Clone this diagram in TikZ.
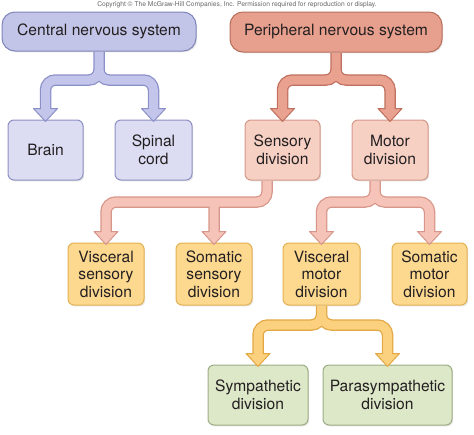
\documentclass[tikz,border=0pt]{standalone}
\usepackage{fontspec}
\setmainfont{TeX Gyre Heros}
\usetikzlibrary{shadows}
\definecolor{txt}{HTML}{231F20}
\definecolor{cnsF}{HTML}{C3C5E8}\definecolor{cnsL}{HTML}{7F84B9}
\definecolor{cnkF}{HTML}{DCDDF3}\definecolor{cnkL}{HTML}{8D90C2}
\definecolor{cnaF}{HTML}{C3C6EA}\definecolor{cnaL}{HTML}{8C90C8}
\definecolor{pnsF}{HTML}{E8A08E}\definecolor{pnsL}{HTML}{B96E5C}
\definecolor{pnaF}{HTML}{E9A190}\definecolor{pnaL}{HTML}{C0705E}
\definecolor{senF}{HTML}{F7D0C4}\definecolor{senL}{HTML}{D4988A}
\definecolor{seaF}{HTML}{F5C3B8}\definecolor{seaL}{HTML}{D8968A}
\definecolor{yelF}{HTML}{FDD990}\definecolor{yelL}{HTML}{E3B152}
\definecolor{yeaF}{HTML}{FBD07E}\definecolor{yeaL}{HTML}{E2A845}
\definecolor{grnF}{HTML}{DDE8C9}\definecolor{grnL}{HTML}{9CAC84}
\newcommand\ahead[2]{\filldraw[#1,line width=1pt,line join=round] ([xshift=-12pt,yshift=11pt]#2.north) -- ([yshift=-2pt]#2.north) -- ([xshift=12pt,yshift=11pt]#2.north) -- cycle;}
\begin{document}
\begin{tikzpicture}[x=1pt,y=-1pt,
  box/.style={draw, line width=1pt, rounded corners=6pt, align=center, inner sep=0pt, text=txt,
    font=\fontsize{15.6}{17.5}\selectfont,
    drop shadow={shadow xshift=1.2pt, shadow yshift=-1.4pt, opacity=0.2}},
  bigbox/.style={box, rounded corners=13pt, minimum height=39pt},
  bandout/.style={line width=11.5pt, rounded corners=10pt},
  bandin/.style={line width=9pt, rounded corners=10pt}]
\useasboundingbox (0,0) rectangle (474,434);
\node[font=\fontsize{6.7}{7}\selectfont, text=black!60] (copy) at (237,4.5)
  {Copyright © The McGraw-Hill Companies, Inc. Permission required for reproduction or display.};
% boxes
\node[bigbox, fill=cnsF, draw=cnsL, minimum width=194pt] (cns) at (99,31.5) {Central nervous system};
\node[bigbox, fill=pnsF, draw=pnsL, minimum width=212pt, minimum height=40pt] (pns) at (336,32) {Peripheral nervous system};
\node[box, fill=cnkF, draw=cnkL, minimum width=75pt, minimum height=60pt] (brain) at (45.5,150) {Brain};
\node[box, fill=cnkF, draw=cnkL, minimum width=77pt, minimum height=60pt] (spin) at (153.5,150) {Spinal\\cord};
\node[box, fill=senF, draw=senL, minimum width=75pt, minimum height=60pt] (sens) at (282.5,150) {Sensory\\division};
\node[box, fill=senF, draw=senL, minimum width=76pt, minimum height=60pt] (mot) at (390,150) {Motor\\division};
\node[box, fill=yelF, draw=yelL, minimum width=76pt, minimum height=62pt] (visS) at (106,274) {Visceral\\sensory\\division};
\node[box, fill=yelF, draw=yelL, minimum width=76pt, minimum height=62pt] (somS) at (214,274) {Somatic\\sensory\\division};
\node[box, fill=yelF, draw=yelL, minimum width=77pt, minimum height=62pt] (visM) at (321.5,274) {Visceral\\motor\\division};
\node[box, fill=yelF, draw=yelL, minimum width=75pt, minimum height=62pt] (somM) at (429.5,274) {Somatic\\motor\\division};
\node[box, fill=grnF, draw=grnL, minimum width=100pt, minimum height=60pt] (symp) at (258,395) {Sympathetic\\division};
\node[box, fill=grnF, draw=grnL, minimum width=129pt, minimum height=60pt] (para) at (387.5,395) {Parasympathetic\\division};
% brace coordinates
\coordinate (bc) at (99,80);
\coordinate (bp) at (336,80);
\coordinate (bs) at (267,202);
\coordinate (bm) at (375,202);
\coordinate (bv) at (321.5,325);
% CNS arrows
\draw[bandout, cnaL] ([yshift=-0.6pt]cns.south) -- (bc) -| ([yshift=11pt]brain.north)
  ([yshift=-0.6pt]cns.south) -- (bc) -| ([yshift=11pt]spin.north);
\ahead{fill=cnaF,draw=cnaL}{brain}\ahead{fill=cnaF,draw=cnaL}{spin}
\draw[bandin, cnaF] ([yshift=-0.6pt]cns.south) -- (bc) -| ([yshift=9.5pt]brain.north)
  ([yshift=-0.6pt]cns.south) -- (bc) -| ([yshift=9.5pt]spin.north);
% PNS arrows
\draw[bandout, pnaL] ([yshift=-0.6pt]pns.south) -- (bp) -| ([yshift=11pt]sens.north)
  ([yshift=-0.6pt]pns.south) -- (bp) -| ([yshift=11pt]mot.north);
\ahead{fill=pnaF,draw=pnaL}{sens}\ahead{fill=pnaF,draw=pnaL}{mot}
\draw[bandin, pnaF] ([yshift=-0.6pt]pns.south) -- (bp) -| ([yshift=9.5pt]sens.north)
  ([yshift=-0.6pt]pns.south) -- (bp) -| ([yshift=9.5pt]mot.north);
% Sensory arrows
\draw[bandout, seaL] ([xshift=-15.5pt,yshift=-0.6pt]sens.south) -- (bs) -| ([yshift=11pt]visS.north)
  (somS.north |- bs) -- ([yshift=11pt]somS.north);
\ahead{fill=seaF,draw=seaL}{visS}\ahead{fill=seaF,draw=seaL}{somS}
\draw[bandin, seaF] ([xshift=-15.5pt,yshift=-0.6pt]sens.south) -- (bs) -| ([yshift=9.5pt]visS.north)
  (somS.north |- bs) -- ([yshift=9.5pt]somS.north);
% Motor arrows
\draw[bandout, seaL] ([xshift=-15pt,yshift=-0.6pt]mot.south) -- (bm) -| ([yshift=11pt]visM.north)
  ([xshift=-15pt,yshift=-0.6pt]mot.south) -- (bm) -| ([yshift=11pt]somM.north);
\ahead{fill=seaF,draw=seaL}{visM}\ahead{fill=seaF,draw=seaL}{somM}
\draw[bandin, seaF] ([xshift=-15pt,yshift=-0.6pt]mot.south) -- (bm) -| ([yshift=9.5pt]visM.north)
  ([xshift=-15pt,yshift=-0.6pt]mot.south) -- (bm) -| ([yshift=9.5pt]somM.north);
% Visceral motor arrows
\draw[bandout, yeaL] ([yshift=-0.6pt]visM.south) -- (bv) -| ([yshift=11pt]symp.north)
  ([yshift=-0.6pt]visM.south) -- (bv) -| ([yshift=11pt]para.north);
\ahead{fill=yeaF,draw=yeaL}{symp}\ahead{fill=yeaF,draw=yeaL}{para}
\draw[bandin, yeaF] ([yshift=-0.6pt]visM.south) -- (bv) -| ([yshift=9.5pt]symp.north)
  ([yshift=-0.6pt]visM.south) -- (bv) -| ([yshift=9.5pt]para.north);
\end{tikzpicture}
\end{document}
